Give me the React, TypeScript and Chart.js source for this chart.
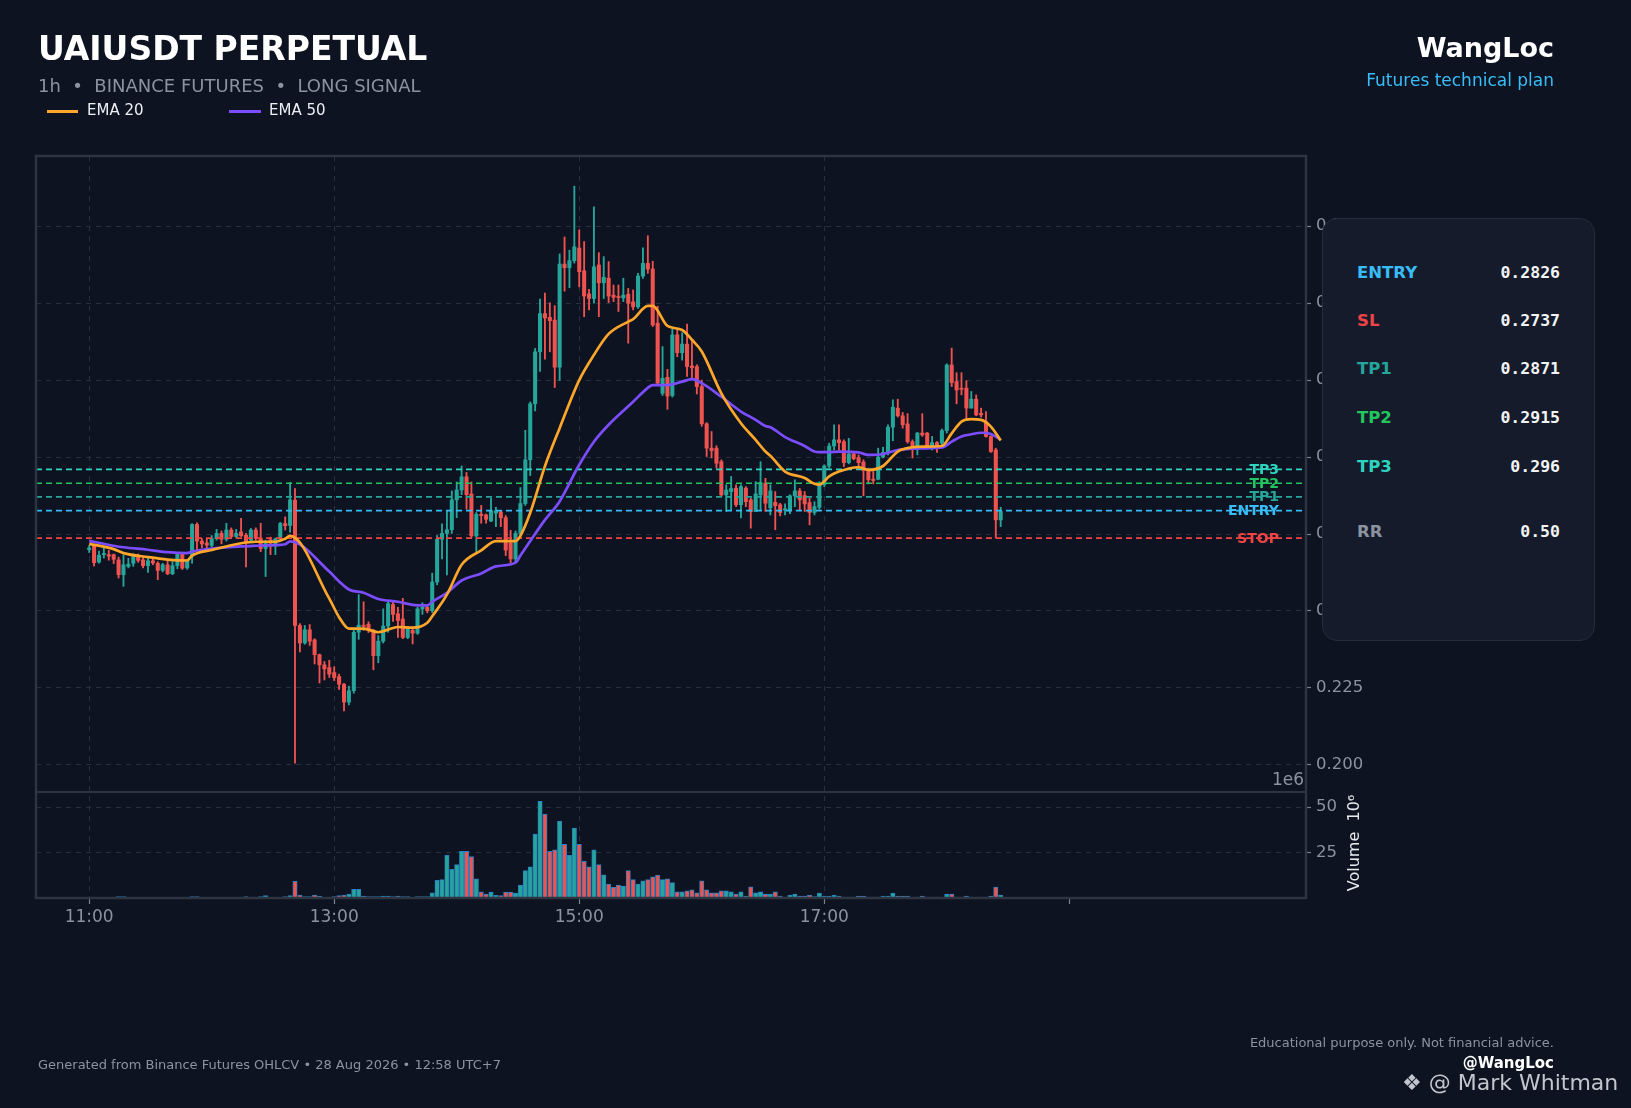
import React, { useEffect, useRef } from 'react';
import { Chart, registerables } from 'chart.js';

Chart.register(...registerables);

// ---------------- data ----------------
const OPEN = [
  0.2699, 0.2710, 0.2659, 0.2683, 0.2683, 0.2683, 0.2666, 0.2618, 0.2645, 0.2655,
  0.2680, 0.2666, 0.2647, 0.2663, 0.2655, 0.2632, 0.2650, 0.2621, 0.2647, 0.2684,
  0.2640, 0.2678, 0.2781, 0.2727, 0.2721, 0.2713, 0.2735, 0.2752, 0.2733, 0.2763,
  0.2742, 0.2757, 0.2746, 0.2730, 0.2763, 0.2736, 0.2703, 0.2731, 0.2712, 0.2734,
  0.2784, 0.2778, 0.2860, 0.2453, 0.2396, 0.2439, 0.2406, 0.2358, 0.2325, 0.2316,
  0.2300, 0.2287, 0.2262, 0.2204, 0.2241, 0.2431, 0.2454, 0.2457, 0.2437, 0.2355,
  0.2402, 0.2451, 0.2521, 0.2491, 0.2474, 0.2414, 0.2437, 0.2428, 0.2507, 0.2512,
  0.2501, 0.2594, 0.2733, 0.2752, 0.2764, 0.2861, 0.2893, 0.2936, 0.2880, 0.2744,
  0.2814, 0.2812, 0.2792, 0.2818, 0.2822, 0.2803, 0.2721, 0.2669, 0.2752, 0.2849,
  0.2991, 0.3173, 0.3342, 0.3466, 0.3454, 0.3445, 0.3292, 0.3627, 0.3615, 0.3638,
  0.3679, 0.3605, 0.3530, 0.3515, 0.3624, 0.3566, 0.3581, 0.3526, 0.3522, 0.3517,
  0.3529, 0.3504, 0.3488, 0.3588, 0.3629, 0.3611, 0.3435, 0.3207, 0.3259, 0.3200,
  0.3397, 0.3339, 0.3367, 0.3296, 0.3294, 0.3229, 0.3108, 0.3029, 0.3029, 0.2985,
  0.2877, 0.2888, 0.2899, 0.2845, 0.2899, 0.2861, 0.2823, 0.2877, 0.2915, 0.2835,
  0.2853, 0.2845, 0.2828, 0.2829, 0.2874, 0.2890, 0.2875, 0.2852, 0.2820, 0.2837,
  0.2910, 0.2971, 0.3036, 0.3056, 0.3050, 0.2982, 0.3010, 0.2998, 0.2984, 0.2961,
  0.2928, 0.2928, 0.3000, 0.3015, 0.3097, 0.3159, 0.3134, 0.3108, 0.3050, 0.3032,
  0.3078, 0.3078, 0.3034, 0.3047, 0.3045, 0.3086, 0.3299, 0.3245, 0.3224, 0.3224,
  0.3159, 0.3188, 0.3142, 0.3115, 0.3067, 0.3023, 0.2796,
];
const HIGH = [
  0.2713, 0.2712, 0.2695, 0.2705, 0.2697, 0.2685, 0.2675, 0.2682, 0.2671, 0.2685,
  0.2685, 0.2677, 0.2672, 0.2675, 0.2660, 0.2655, 0.2661, 0.2661, 0.2688, 0.2690,
  0.2668, 0.2784, 0.2786, 0.2735, 0.2735, 0.2745, 0.2765, 0.2760, 0.2785, 0.2770,
  0.2765, 0.2801, 0.2752, 0.2768, 0.2770, 0.2785, 0.2730, 0.2740, 0.2737, 0.2788,
  0.2806, 0.2918, 0.2898, 0.2459, 0.2453, 0.2456, 0.2410, 0.2360, 0.2336, 0.2340,
  0.2319, 0.2295, 0.2265, 0.2256, 0.2437, 0.2553, 0.2530, 0.2465, 0.2440, 0.2420,
  0.2507, 0.2530, 0.2530, 0.2512, 0.2541, 0.2450, 0.2445, 0.2512, 0.2527, 0.2518,
  0.2623, 0.2745, 0.2783, 0.2826, 0.2890, 0.2919, 0.2971, 0.2950, 0.2919, 0.2820,
  0.2843, 0.2815, 0.2866, 0.2837, 0.2826, 0.2810, 0.2762, 0.2760, 0.2901, 0.3087,
  0.3179, 0.3353, 0.3513, 0.3533, 0.3501, 0.3492, 0.3660, 0.3715, 0.3672, 0.3880,
  0.3738, 0.3700, 0.3545, 0.3813, 0.3664, 0.3651, 0.3635, 0.3559, 0.3559, 0.3581,
  0.3548, 0.3543, 0.3597, 0.3680, 0.3719, 0.3636, 0.3490, 0.3359, 0.3285, 0.3415,
  0.3415, 0.3404, 0.3432, 0.3380, 0.3300, 0.3250, 0.3112, 0.3083, 0.3037, 0.2991,
  0.2910, 0.2937, 0.2910, 0.2910, 0.2904, 0.2866, 0.2920, 0.2985, 0.2931, 0.2910,
  0.2888, 0.2850, 0.2848, 0.2877, 0.2926, 0.2898, 0.2888, 0.2866, 0.2855, 0.2920,
  0.2975, 0.3045, 0.3105, 0.3105, 0.3056, 0.3061, 0.3018, 0.3007, 0.2991, 0.2964,
  0.2953, 0.3029, 0.3032, 0.3105, 0.3186, 0.3188, 0.3145, 0.3141, 0.3056, 0.3080,
  0.3141, 0.3080, 0.3067, 0.3050, 0.3091, 0.3303, 0.3354, 0.3274, 0.3274, 0.3248,
  0.3213, 0.3202, 0.3159, 0.3148, 0.3069, 0.3029, 0.2837,
];
const LOW = [
  0.2690, 0.2646, 0.2655, 0.2672, 0.2665, 0.2654, 0.2607, 0.2580, 0.2640, 0.2645,
  0.2658, 0.2640, 0.2625, 0.2650, 0.2602, 0.2627, 0.2618, 0.2618, 0.2637, 0.2635,
  0.2635, 0.2655, 0.2695, 0.2705, 0.2699, 0.2708, 0.2730, 0.2718, 0.2727, 0.2738,
  0.2738, 0.2742, 0.2643, 0.2725, 0.2730, 0.2693, 0.2612, 0.2683, 0.2683, 0.2727,
  0.2763, 0.2756, 0.2006, 0.2367, 0.2392, 0.2388, 0.2328, 0.2266, 0.2276, 0.2284,
  0.2274, 0.2245, 0.2175, 0.2195, 0.2233, 0.2408, 0.2437, 0.2430, 0.2309, 0.2332,
  0.2396, 0.2431, 0.2466, 0.2414, 0.2410, 0.2410, 0.2393, 0.2424, 0.2489, 0.2494,
  0.2495, 0.2585, 0.2669, 0.2617, 0.2752, 0.2803, 0.2878, 0.2831, 0.2738, 0.2692,
  0.2785, 0.2785, 0.2790, 0.2774, 0.2774, 0.2680, 0.2657, 0.2657, 0.2744, 0.2843,
  0.2940, 0.3150, 0.3278, 0.3318, 0.3342, 0.3226, 0.3249, 0.3539, 0.3550, 0.3630,
  0.3553, 0.3456, 0.3478, 0.3500, 0.3456, 0.3515, 0.3502, 0.3505, 0.3473, 0.3505,
  0.3370, 0.3478, 0.3483, 0.3580, 0.3597, 0.3424, 0.3235, 0.3200, 0.3155, 0.3195,
  0.3326, 0.3315, 0.3262, 0.3256, 0.3205, 0.3100, 0.3002, 0.2997, 0.2964, 0.2872,
  0.2823, 0.2829, 0.2839, 0.2802, 0.2839, 0.2769, 0.2823, 0.2829, 0.2823, 0.2812,
  0.2764, 0.2809, 0.2812, 0.2816, 0.2839, 0.2829, 0.2823, 0.2780, 0.2812, 0.2830,
  0.2904, 0.2964, 0.3023, 0.3023, 0.2969, 0.2978, 0.2991, 0.2961, 0.2874, 0.2913,
  0.2913, 0.2926, 0.2997, 0.3007, 0.3053, 0.3130, 0.3094, 0.3045, 0.2997, 0.3007,
  0.3067, 0.3032, 0.3023, 0.3015, 0.3036, 0.3078, 0.3229, 0.3173, 0.3202, 0.3121,
  0.3159, 0.3134, 0.3130, 0.3065, 0.3015, 0.2737, 0.2774,
];
const CLOSE = [
  0.2705, 0.2657, 0.2681, 0.2687, 0.2678, 0.2668, 0.2618, 0.2650, 0.2652, 0.2677,
  0.2664, 0.2647, 0.2663, 0.2656, 0.2632, 0.2650, 0.2621, 0.2647, 0.2685, 0.2639,
  0.2663, 0.2781, 0.2727, 0.2718, 0.2714, 0.2735, 0.2752, 0.2733, 0.2763, 0.2742,
  0.2752, 0.2744, 0.2725, 0.2763, 0.2736, 0.2703, 0.2719, 0.2720, 0.2734, 0.2784,
  0.2777, 0.2861, 0.2453, 0.2396, 0.2439, 0.2402, 0.2358, 0.2325, 0.2312, 0.2295,
  0.2284, 0.2262, 0.2204, 0.2241, 0.2431, 0.2454, 0.2450, 0.2437, 0.2355, 0.2402,
  0.2451, 0.2524, 0.2489, 0.2469, 0.2414, 0.2443, 0.2428, 0.2507, 0.2512, 0.2501,
  0.2594, 0.2733, 0.2752, 0.2764, 0.2861, 0.2893, 0.2936, 0.2878, 0.2744, 0.2814,
  0.2810, 0.2798, 0.2826, 0.2826, 0.2803, 0.2698, 0.2669, 0.2752, 0.2849, 0.2991,
  0.3173, 0.3342, 0.3466, 0.3452, 0.3443, 0.3292, 0.3627, 0.3615, 0.3638, 0.3683,
  0.3602, 0.3523, 0.3515, 0.3618, 0.3566, 0.3584, 0.3523, 0.3519, 0.3518, 0.3526,
  0.3500, 0.3488, 0.3588, 0.3629, 0.3611, 0.3429, 0.3240, 0.3256, 0.3198, 0.3397,
  0.3339, 0.3367, 0.3294, 0.3290, 0.3229, 0.3108, 0.3029, 0.3021, 0.2980, 0.2877,
  0.2893, 0.2898, 0.2845, 0.2904, 0.2855, 0.2823, 0.2880, 0.2917, 0.2850, 0.2890,
  0.2842, 0.2820, 0.2831, 0.2874, 0.2890, 0.2861, 0.2848, 0.2820, 0.2839, 0.2913,
  0.2971, 0.3036, 0.3056, 0.3047, 0.2982, 0.3010, 0.2995, 0.2982, 0.2956, 0.2926,
  0.2924, 0.3000, 0.3015, 0.3097, 0.3162, 0.3134, 0.3105, 0.3050, 0.3032, 0.3078,
  0.3072, 0.3034, 0.3047, 0.3036, 0.3086, 0.3299, 0.3242, 0.3218, 0.3220, 0.3159,
  0.3188, 0.3137, 0.3137, 0.3067, 0.3018, 0.2796, 0.2823,
];
// volume in millions (1e6)
const VOLUME_M = [
  0.3, 0.2, 0.2, 0.2, 0.2, 0.2, 0.8, 0.8, 0.2, 0.2,
  0.2, 0.2, 0.2, 0.2, 0.2, 0.2, 0.2, 0.2, 0.2, 0.2,
  0.2, 0.8, 0.8, 0.2, 0.2, 0.2, 0.2, 0.2, 0.2, 0.2,
  0.2, 0.2, 0.8, 0.2, 0.2, 0.8, 1.3, 0.2, 0.2, 0.3,
  0.8, 1.3, 9.2, 1.6, 0.8, 0.8, 1.6, 1.1, 0.3, 0.3,
  0.8, 1.3, 1.6, 2.1, 4.7, 4.7, 1.1, 0.8, 0.8, 0.8,
  1.1, 1.1, 0.8, 1.1, 0.8, 0.8, 0.3, 0.8, 0.8, 0.8,
  2.8, 9.7, 10.1, 23.5, 15.7, 18.4, 25.6, 25.6, 22.8, 10.6,
  3.4, 2.1, 3.2, 1.5, 1.3, 3.2, 3.2, 2.7, 7.1, 15.1,
  17.2, 35.1, 53.2, 46.2, 25.6, 26.5, 42.3, 29.5, 23.5, 38.4,
  29.5, 20.1, 17.2, 26.5, 18.4, 12.8, 7.6, 5.9, 7.1, 6.6,
  15.1, 10.1, 7.6, 9.4, 10.1, 11.7, 12.6, 10.1, 10.5, 8.5,
  3.4, 3.4, 4.0, 4.5, 2.8, 9.4, 4.5, 2.8, 2.8, 4.0,
  4.0, 3.4, 2.1, 3.4, 1.0, 6.2, 2.8, 3.4, 2.1, 2.1,
  3.4, 1.0, 0.5, 1.6, 2.1, 1.0, 1.0, 1.6, 0.8, 2.7,
  1.0, 1.0, 1.6, 1.0, 0.5, 0.5, 0.5, 1.0, 1.0, 0.5,
  0.5, 0.5, 1.0, 1.0, 2.7, 1.0, 1.0, 1.0, 0.2, 0.5,
  1.0, 0.5, 0.2, 0.5, 0.2, 2.1, 2.1, 0.5, 0.5, 1.0,
  0.5, 0.2, 0.5, 0.5, 1.0, 6.0, 1.6,
];
// EMA curves (candle index, value)
const EMA_X = [
  0, 5, 7, 12, 16, 20, 21, 25, 31, 34, 38, 40, 41, 49, 51, 53, 56, 59, 63, 66,
  69, 70, 73, 76, 80, 83, 87, 88, 90, 93, 96, 100, 103, 106, 110, 111, 114, 115, 118, 121,
  123, 125, 129, 133, 136, 138, 139, 142, 146, 148, 149, 151, 153, 157, 159, 162, 165, 168, 170, 174,
  176, 178, 180, 182, 184, 186,
];
const EMA20 = [
  0.2718, 0.2701, 0.2688, 0.2675, 0.2667, 0.2664, 0.2680, 0.2698, 0.2720, 0.2725,
  0.2725, 0.2735, 0.2744, 0.2540, 0.2480, 0.2443, 0.2443, 0.2431, 0.2448, 0.2446,
  0.2462, 0.2483, 0.2553, 0.2650, 0.2697, 0.2727, 0.2727, 0.2744, 0.2819, 0.2970,
  0.3094, 0.3250, 0.3332, 0.3400, 0.3440, 0.3448, 0.3491, 0.3491, 0.3426, 0.3413,
  0.3381, 0.3343, 0.3207, 0.3110, 0.3056, 0.3018, 0.3004, 0.2953, 0.2932, 0.2913,
  0.2910, 0.2937, 0.2953, 0.2967, 0.2958, 0.2971, 0.3018, 0.3032, 0.3034, 0.3036,
  0.3077, 0.3115, 0.3123, 0.3121, 0.3099, 0.3054,
];
const EMA50 = [
  0.2728, 0.2712, 0.2707, 0.2699, 0.2691, 0.2688, 0.2693, 0.2703, 0.2710, 0.2712,
  0.2714, 0.2717, 0.2726, 0.2628, 0.2596, 0.2570, 0.2559, 0.2539, 0.2530, 0.2520,
  0.2518, 0.2530, 0.2559, 0.2599, 0.2622, 0.2645, 0.2657, 0.2680, 0.2727, 0.2796,
  0.2856, 0.2975, 0.3050, 0.3105, 0.3165, 0.3180, 0.3225, 0.3234, 0.3234, 0.3245,
  0.3253, 0.3240, 0.3196, 0.3148, 0.3121, 0.3101, 0.3097, 0.3065, 0.3036, 0.3018,
  0.3016, 0.3016, 0.3018, 0.3015, 0.3007, 0.3010, 0.3023, 0.3027, 0.3028, 0.3031,
  0.3050, 0.3067, 0.3074, 0.3079, 0.3075, 0.3056,
];
const X_TICKS = [0, 50, 100, 150, 200];
const X_TICK_LABELS = ['11:00', '13:00', '15:00', '17:00', ''];
const PRICE_TICKS = [0.2, 0.225, 0.25, 0.275, 0.3, 0.325, 0.35, 0.375];
const VOLUME_TICKS = [25, 50];
const LEVEL_NAMES = ['TP3', 'TP2', 'TP1', 'ENTRY', 'STOP'];
const LEVEL_VALUES = [0.296, 0.2915, 0.2871, 0.2826, 0.2737];
const PANEL_LABELS = ['ENTRY', 'SL', 'TP1', 'TP2', 'TP3', 'RR'];
const PANEL_VALUES = ['0.2826', '0.2737', '0.2871', '0.2915', '0.296', '0.50'];

// ---------------- style ----------------
const BG = '#0d1321';
const PANEL_BG = '#151b2a';
const GREEN = '#26a69a';
const RED = '#ef5350';
const ORANGE = '#ffa62b';
const PURPLE = '#7c4dff';
const VOL_EDGE = '#2a7fc0';
const GRID = '#283040';
const FRAME = '#2e3541';
const TICK_TEXT = '#8b93a1';
const LEVEL_COLORS = ['#2dd4bf', '#22c55e', '#26a69a', '#38bdf8', '#ef4444'];
const PANEL_COLORS = ['#38bdf8', '#ef4444', '#26a69a', '#22c55e', '#2dd4bf', '#8b93a1'];
const X_MIN = -10.85;
const X_MAX = 248.3;
const FONT = '"DejaVu Sans", "Noto Sans", sans-serif';

const overlayPlugin = {
  id: 'overlayPlugin',
  afterDatasetsDraw(chart: any) {
    const { ctx, chartArea, scales } = chart;
    const y = scales.y;
    ctx.save();
    ctx.font = `bold 14px ${FONT}`;
    ctx.textAlign = 'right';
    ctx.textBaseline = 'middle';
    LEVEL_VALUES.forEach((v, i) => {
      ctx.fillStyle = LEVEL_COLORS[i];
      ctx.fillText(LEVEL_NAMES[i], chartArea.right - 27, y.getPixelForValue(v) + 1);
    });
    ctx.restore();
  },
  afterDraw(chart: any) {
    const { ctx, chartArea, scales } = chart;
    const yv = scales.yv;
    ctx.save();
    ctx.strokeStyle = FRAME;
    ctx.lineWidth = 2.5;
    ctx.strokeRect(chartArea.left, chartArea.top, chartArea.right - chartArea.left, chartArea.bottom - chartArea.top);
    ctx.lineWidth = 2;
    ctx.beginPath();
    ctx.moveTo(chartArea.left, yv.top);
    ctx.lineTo(chartArea.right, yv.top);
    ctx.stroke();
    // offset text
    ctx.fillStyle = TICK_TEXT;
    ctx.font = `17px ${FONT}`;
    ctx.textAlign = 'right';
    ctx.textBaseline = 'middle';
    ctx.fillText('1e6', chartArea.right - 2, yv.top - 11);
    // volume axis title
    ctx.translate(1355, (yv.top + yv.bottom) / 2 - 2);
    ctx.rotate(-Math.PI / 2);
    ctx.fillStyle = '#e8eaee';
    ctx.font = `16px ${FONT}`;
    ctx.textAlign = 'center';
    ctx.fillText('Volume  10\u2076', 0, 0);
    ctx.restore();
  },
};

const abs: React.CSSProperties = { position: 'absolute', whiteSpace: 'pre', lineHeight: 1 };

export default function App() {
  const canvasRef = useRef<HTMLCanvasElement | null>(null);

  useEffect(() => {
    document.body.style.margin = '0';
    document.body.style.background = BG;
    const canvas = canvasRef.current;
    if (!canvas) return;
    const idx = OPEN.map((_, i) => i);
    const colors = idx.map((i) => (CLOSE[i] >= OPEN[i] ? GREEN : RED));

    const levelSets = LEVEL_VALUES.map((v, i) => ({
      type: 'line' as const,
      data: [{ x: X_MIN, y: v }, { x: X_MAX, y: v }],
      yAxisID: 'y',
      borderColor: LEVEL_COLORS[i],
      borderWidth: 1.7,
      borderDash: [6, 4],
      pointRadius: 0,
      order: 2,
    }));

    const chart = new Chart(canvas, {
      type: 'bar',
      data: {
        datasets: [
          {
            type: 'line',
            label: 'EMA 20',
            data: EMA_X.map((x, i) => ({ x, y: EMA20[i] })),
            yAxisID: 'y',
            borderColor: ORANGE,
            borderWidth: 2.7,
            pointRadius: 0,
            cubicInterpolationMode: 'monotone',
            order: 1,
          },
          {
            type: 'line',
            label: 'EMA 50',
            data: EMA_X.map((x, i) => ({ x, y: EMA50[i] })),
            yAxisID: 'y',
            borderColor: PURPLE,
            borderWidth: 2.7,
            pointRadius: 0,
            cubicInterpolationMode: 'monotone',
            order: 1,
          },
          ...levelSets,
          {
            type: 'bar',
            label: 'body',
            data: idx.map((i) => ({ x: i, y: [OPEN[i], CLOSE[i]] })),
            yAxisID: 'y',
            backgroundColor: colors,
            barThickness: 3.4,
            minBarLength: 1.2,
            grouped: false,
            order: 3,
          },
          {
            type: 'bar',
            label: 'wick',
            data: idx.map((i) => ({ x: i, y: [LOW[i], HIGH[i]] })),
            yAxisID: 'y',
            backgroundColor: colors,
            barThickness: 1.2,
            grouped: false,
            order: 4,
          },
          {
            type: 'bar',
            label: 'volume',
            data: idx.map((i) => ({ x: i, y: VOLUME_M[i] })),
            yAxisID: 'yv',
            backgroundColor: colors,
            borderColor: VOL_EDGE,
            borderWidth: 1,
            borderSkipped: 'bottom',
            barThickness: 4.4,
            grouped: false,
            order: 5,
          },
        ] as any,
      },
      options: {
        responsive: false,
        animation: false,
        devicePixelRatio: 1,
        layout: { padding: { left: 36, top: 156, right: 265, bottom: 170 } },
        plugins: { legend: { display: false }, tooltip: { enabled: false } },
        scales: {
          x: {
            type: 'linear',
            min: X_MIN,
            max: X_MAX,
            offset: false,
            grid: {
              offset: false,
              color: (c: any) => (c.tick && c.tick.value === 200 ? 'rgba(0,0,0,0)' : GRID),
              lineWidth: 1,
              drawTicks: true,
              tickLength: 6,
              tickColor: '#7a8290',
              tickWidth: 1.2,
            },
            border: { display: false, dash: [5, 5] },
            ticks: {
              color: TICK_TEXT,
              font: { family: FONT, size: 17 },
              padding: 3,
              autoSkip: false,
              maxRotation: 0,
              callback: (v: any) => {
                const k = X_TICKS.indexOf(Number(v));
                return k >= 0 ? X_TICK_LABELS[k] : '';
              },
            },
            afterBuildTicks: (s: any) => {
              s.ticks = X_TICKS.map((v) => ({ value: v }));
            },
            afterFit: (s: any) => {
              s.height = 40;
            },
          },
          y: {
            type: 'linear',
            position: 'right',
            stack: 'panes',
            stackWeight: 636,
            min: 0.1912,
            max: 0.3978,
            grid: { color: GRID, lineWidth: 1, tickLength: 5, tickColor: '#7a8290', tickWidth: 1.2 },
            border: { display: false, dash: [5, 5] },
            ticks: {
              color: TICK_TEXT,
              font: { family: FONT, size: 16.5 },
              padding: 5,
              callback: (v: any) => Number(v).toFixed(3),
            },
            afterBuildTicks: (s: any) => {
              s.ticks = PRICE_TICKS.map((v) => ({ value: v }));
            },
            afterFit: (s: any) => {
              s.width = 60;
            },
          },
          yv: {
            type: 'linear',
            position: 'right',
            stack: 'panes',
            stackWeight: 106,
            min: 0,
            max: 58.3,
            grid: { color: GRID, lineWidth: 1, tickLength: 5, tickColor: '#7a8290', tickWidth: 1.2 },
            border: { display: false, dash: [5, 5] },
            ticks: {
              color: TICK_TEXT,
              font: { family: FONT, size: 16.5 },
              padding: 5,
              callback: (v: any) => String(v),
            },
            afterBuildTicks: (s: any) => {
              s.ticks = VOLUME_TICKS.map((v) => ({ value: v }));
            },
            afterFit: (s: any) => {
              s.width = 60;
            },
          },
        },
      } as any,
      plugins: [overlayPlugin],
    });
    return () => chart.destroy();
  }, []);

  const panelRowY = [54, 102, 150, 199, 248, 313];

  return (
    <div
      style={{
        position: 'absolute',
        left: 0,
        top: 0,
        width: 1631,
        height: 1108,
        background: BG,
        overflow: 'hidden',
        fontFamily: FONT,
      }}
    >
      <canvas
        ref={canvasRef}
        width={1631}
        height={1108}
        style={{ position: 'absolute', left: 0, top: 0, width: 1631, height: 1108 }}
      />
      {/* header */}
      <div style={{ ...abs, left: 38, top: 48, transform: 'translateY(-50%)', fontSize: 33, fontWeight: 'bold', color: '#ffffff' }}>
        UAIUSDT PERPETUAL
      </div>
      <div style={{ ...abs, left: 38, top: 86, transform: 'translateY(-50%)', fontSize: 18, color: TICK_TEXT }}>
        {'1h  \u2022  BINANCE FUTURES  \u2022  LONG SIGNAL'}
      </div>
      <div style={{ position: 'absolute', left: 47, top: 109.5, width: 31, height: 3, background: ORANGE }} />
      <div style={{ ...abs, left: 87, top: 110, transform: 'translateY(-50%)', fontSize: 15, color: '#eceef2' }}>EMA 20</div>
      <div style={{ position: 'absolute', left: 229, top: 109.5, width: 32, height: 3, background: PURPLE }} />
      <div style={{ ...abs, left: 269, top: 110, transform: 'translateY(-50%)', fontSize: 15, color: '#eceef2' }}>EMA 50</div>

      <div style={{ ...abs, right: 1631 - 1554, top: 47, transform: 'translateY(-50%)', fontSize: 27, fontWeight: 'bold', color: '#ffffff' }}>
        WangLoc
      </div>
      <div style={{ ...abs, right: 1631 - 1554, top: 80, transform: 'translateY(-50%)', fontSize: 17, color: '#38bdf8' }}>
        Futures technical plan
      </div>

      {/* info panel */}
      <div
        style={{
          position: 'absolute',
          left: 1322,
          top: 218,
          width: 273,
          height: 423,
          background: PANEL_BG,
          border: '1.5px solid #262c3a',
          borderRadius: 15,
          boxSizing: 'border-box',
        }}
      >
        {PANEL_LABELS.map((lab, i) => (
          <React.Fragment key={lab}>
            <div
              style={{
                ...abs,
                left: 34,
                top: panelRowY[i],
                transform: 'translateY(-50%)',
                fontSize: 16.5,
                fontWeight: 'bold',
                color: PANEL_COLORS[i],
              }}
            >
              {lab}
            </div>
            <div
              style={{
                ...abs,
                right: 34,
                top: panelRowY[i],
                transform: 'translateY(-50%)',
                fontSize: 16.5,
                fontWeight: 'bold',
                color: '#f2f3f5',
                fontFamily: '"DejaVu Sans Mono", monospace',
              }}
            >
              {PANEL_VALUES[i]}
            </div>
          </React.Fragment>
        ))}
      </div>

      {/* footer */}
      <div style={{ ...abs, left: 38, top: 1064, transform: 'translateY(-50%)', fontSize: 13, color: TICK_TEXT }}>
        {'Generated from Binance Futures OHLCV \u2022 28 Aug 2026 \u2022 12:58 UTC+7'}
      </div>
      <div style={{ ...abs, right: 1631 - 1554, top: 1042, transform: 'translateY(-50%)', fontSize: 13, color: TICK_TEXT }}>
        Educational purpose only. Not financial advice.
      </div>
      <div style={{ ...abs, right: 1631 - 1554, top: 1063, transform: 'translateY(-50%)', fontSize: 15, fontWeight: 'bold', color: '#ffffff' }}>
        @WangLoc
      </div>
      <div style={{ ...abs, left: 1402, top: 1083, transform: 'translateY(-50%)', fontSize: 22, color: '#d6dae0', opacity: 0.9 }}>
        {'\u2756 @ Mark Whitman'}
      </div>
    </div>
  );
}
